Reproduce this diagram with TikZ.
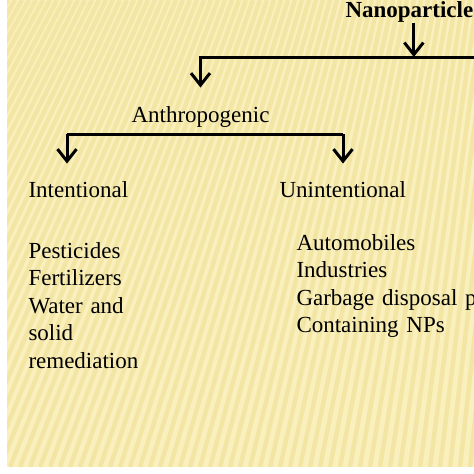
\documentclass[tikz,border=0pt]{standalone}
\usepackage{fontspec}
\setmainfont{Liberation Serif}[WordSpace=0.8]
\usetikzlibrary{arrows.meta,positioning}
\definecolor{paleyel}{RGB}{250,240,190}
\definecolor{stripyel}{RGB}{232,212,120}

\begin{document}
\begin{tikzpicture}
  [x=1pt,y=-1pt,line width=3pt,
   txtN/.style={anchor=base west,inner sep=0pt,font=\fontsize{23}{27.5}\selectfont},
   lstN/.style={txtN,align=left,text width=320pt},
   brN/.style={-{Straight Barb[length=12pt,width=19pt]},shorten >=16pt},
  ]

 \clip (0,0) rectangle (474,474);
 \fill[white] (0,0) rectangle (474,474);
 \fill[paleyel] (7,0) rectangle (474,467);
 \begin{scope}
  \clip (7,0) rectangle (474,467);
  \foreach \x in {-290,-280,...,480}
   \draw[stripyel,line width=4.5pt,opacity=0.35] (\x,467) -- ({190+0.7*\x},0);
 \end{scope}

 \node[txtN,font=\bfseries\fontsize{23}{27.5}\selectfont] (np) at (344,17) {Nanoparticles};
 \node[txtN] (anth) at (130,122) {Anthropogenic};
 \node[txtN] (intn) at (27,197)  {Intentional};
 \node[txtN] (unin) at (278,197) {Unintentional};
 \node[lstN] (inl)  at (27,258)  {Pesticides\\Fertilizers\\Water and\\solid\\remediation};
 \node[lstN] (unl)  at (295,250) {Automobiles\\Industries\\Garbage disposal products\\Containing NPs};

 \coordinate (barR) at (480,57);
 \coordinate (tl)   at (67,134);
 \coordinate (tr)   at (343,134);

 \draw[brN,shorten >=0pt] (np.south) to (np.south |- barR);
 \draw[brN,shorten >=17pt] (barR) -| (anth.north);
 \draw (tl) to (tr);
 \draw[brN] (tl) to (tl |- intn.north);
 \draw[brN] (tr) to (tr |- unin.north);

\end{tikzpicture}
\end{document}
